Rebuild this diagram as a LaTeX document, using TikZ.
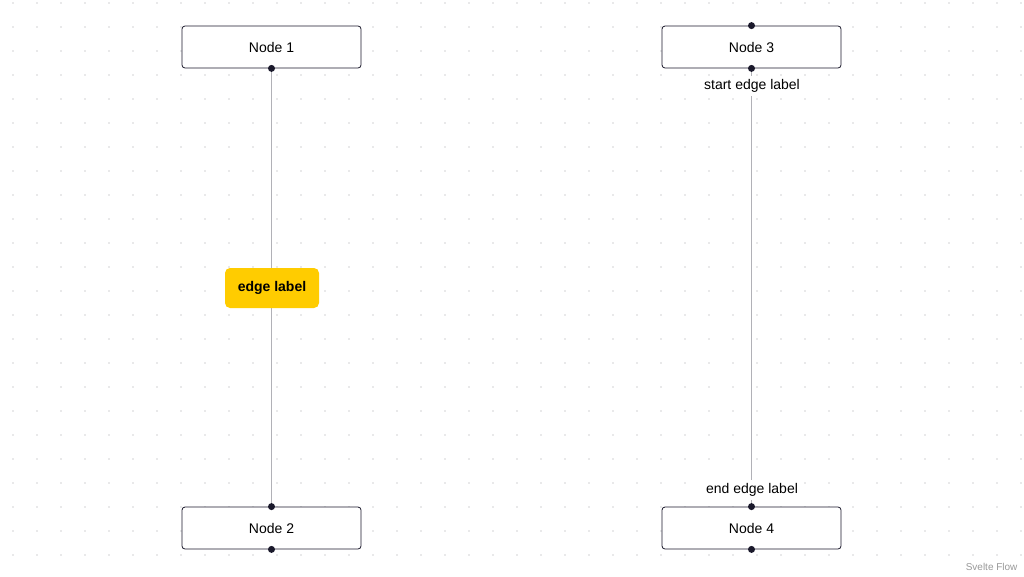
\documentclass[tikz,border=0pt]{standalone}
\usepackage{fontspec}
\setmainfont{Liberation Sans}
\usepackage{tikz}
\usetikzlibrary{positioning}

\definecolor{ink}{HTML}{1A192B}
\definecolor{wire}{HTML}{B1B1B7}
\definecolor{griddot}{HTML}{A0A0A8}
\definecolor{gold}{HTML}{FFCC00}

\begin{document}
\begin{tikzpicture}
[
                     x =  1pt,
                     y = -1pt,
              nv/.style = { draw=ink, fill=white, rounded corners=3pt, line width=0.8pt,
                            minimum width=179pt, minimum height=42pt, inner sep=0pt,
                            font=\fontsize{14}{16}\selectfont },
              hv/.style = { draw=none, fill=ink, circle, inner sep=0pt, minimum size=7pt },
            wire/.style = { draw=wire, line width=0.8pt },
          elabel/.style = { draw=none, fill=gold, rounded corners=5pt, inner sep=0pt,
                            minimum width=94pt, minimum height=40pt,
                            font=\fontsize{14}{16}\selectfont\bfseries },
          plabel/.style = { draw=none, fill=white, inner sep=3pt,
                            font=\fontsize{14}{16}\selectfont },
          credit/.style = { draw=none, fill=none, anchor=east, text=gray!80,
                            font=\fontsize{10}{12}\selectfont }
]

    \useasboundingbox[fill=white] (0,0) rectangle (1024,576);

    % background dots
    \foreach \i in {0,...,42}
        \foreach \j in {0,...,23}
            \fill[griddot] (13+24*\i, 3+24*\j) circle (0.65pt);

    \node (1) at (271.5, 47 ) [nv] {Node 1};
    \node (2) at (271.5, 528) [nv] {Node 2};
    \node (3) at (751.5, 47 ) [nv] {Node 3};
    \node (4) at (751.5, 528) [nv] {Node 4};

    % edges
    \draw[wire] (1.south) -- (2.north);
    \draw[wire] (3.south) -- (4.north);

    % handles
    \node (1b) at (1.south) [hv] {};
    \node (2t) at (2.north) [hv] {};	\node (2b) at (2.south) [hv] {};
    \node (3t) at (3.north) [hv] {};	\node (3b) at (3.south) [hv] {};
    \node (4t) at (4.north) [hv] {};	\node (4b) at (4.south) [hv] {};

    % labels
    \node (el) at (272, 288) [elabel] {edge label};
    \node (sl) at (752, 86 ) [plabel] {start edge label};
    \node (nl) at (752, 490) [plabel] {end edge label};

    \node (sf) at (1021, 567) [credit] {Svelte Flow};

\end{tikzpicture}
\end{document}
